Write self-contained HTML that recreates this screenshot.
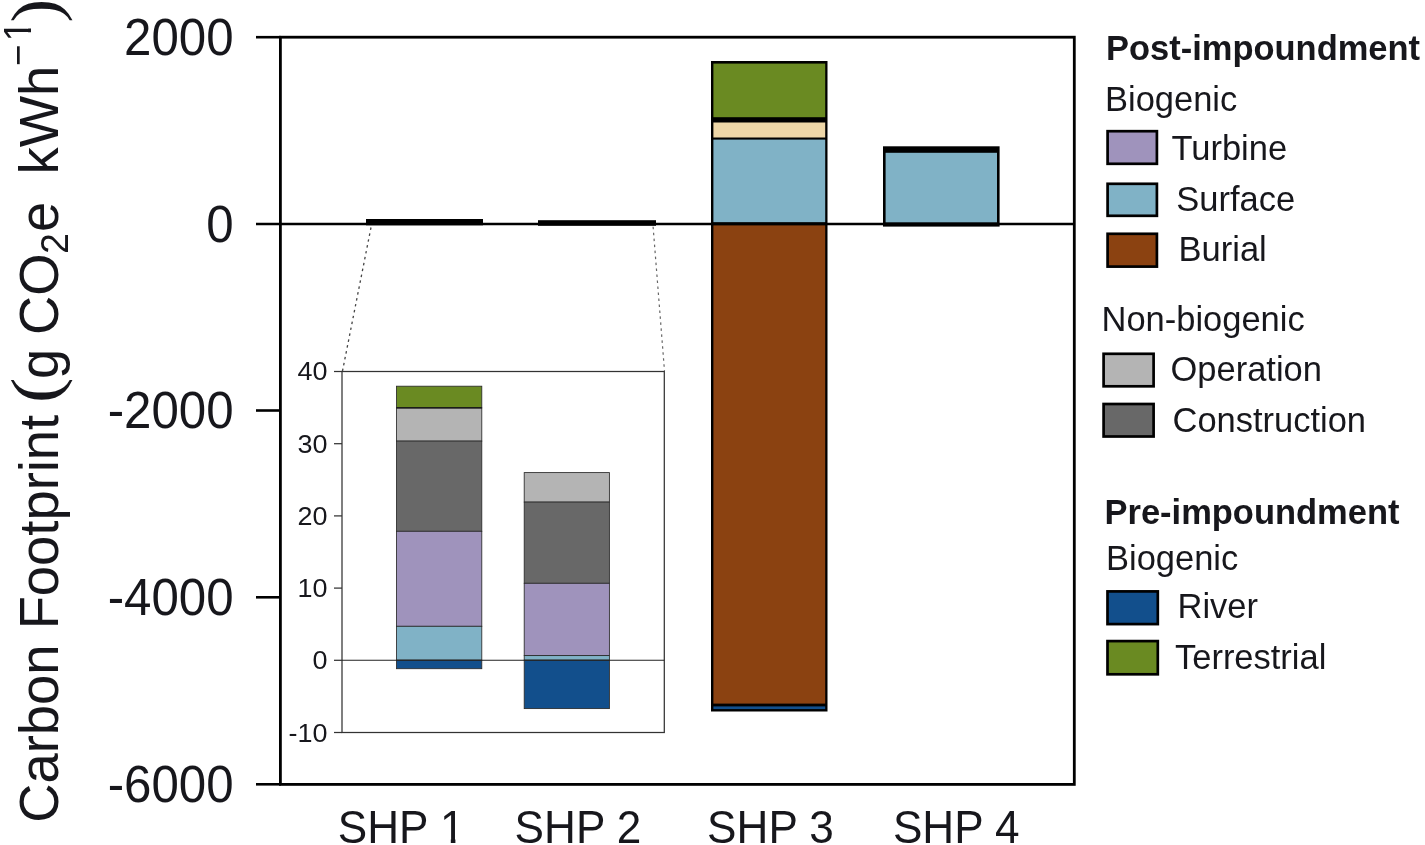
<!DOCTYPE html>
<html>
<head>
<meta charset="utf-8">
<style>
html,body{margin:0;padding:0;background:#fff;}
svg{display:block;}
text{font-family:"Liberation Sans",Arial,sans-serif;fill:#17171c;}
</style>
</head>
<body>
<svg width="1425" height="845" viewBox="0 0 1425 845">
<defs>
<clipPath id="c1"><rect x="300" y="790" width="200" height="48.8"/><rect x="300" y="790" width="142.6" height="60"/><rect x="450.8" y="790" width="4.6" height="60"/></clipPath>
<clipPath id="c2"><rect x="0" y="0" width="27.6" height="60"/><rect x="0" y="28.6" width="40" height="3.6"/><rect x="0" y="0" width="40" height="21.5"/><rect x="0" y="41" width="40" height="30"/></clipPath>
</defs>
<rect x="0" y="0" width="1425" height="845" fill="#fff"/>

<!-- ===== main bars ===== -->
<!-- SHP1 / SHP2 tiny bars -->
<rect x="366" y="219" width="117" height="6.3" fill="#000"/>
<rect x="538" y="220.2" width="118" height="5.6" fill="#000"/>

<!-- SHP3 -->
<rect x="711" y="61" width="116.5" height="650.5" fill="#000"/>
<rect x="713.4" y="63.6" width="111.8" height="53.6" fill="#6a8a22"/>
<rect x="713.4" y="122.5" width="111.8" height="15" fill="#eed7a8"/>
<rect x="713.4" y="139.6" width="111.8" height="82.6" fill="#80b2c6"/>
<rect x="713.4" y="225.2" width="111.8" height="478.4" fill="#8b4211"/>
<rect x="713.4" y="706.4" width="111.8" height="2.7" fill="#124f8c"/>

<!-- SHP4 -->
<rect x="883" y="146.3" width="116.6" height="80.3" fill="#000"/>
<rect x="885.6" y="152.8" width="111.4" height="69.6" fill="#80b2c6"/>

<!-- zero line -->
<line x1="256" y1="223.9" x2="1074" y2="223.9" stroke="#000" stroke-width="2.5"/>

<!-- ===== frame ===== -->
<rect x="280.4" y="37.2" width="793.9" height="747.2" fill="none" stroke="#000" stroke-width="2.8"/>
<g stroke="#000" stroke-width="2.6">
<line x1="256" y1="37.2" x2="281" y2="37.2"/>
<line x1="256" y1="410.5" x2="281" y2="410.5"/>
<line x1="256" y1="597.3" x2="281" y2="597.3"/>
<line x1="256" y1="784.3" x2="281" y2="784.3"/>
</g>

<!-- y tick labels -->
<g font-size="51" text-anchor="end">
<text transform="translate(233.6,54.5) scale(0.966,1)">2000</text>
<text transform="translate(233.6,241.8) scale(0.966,1)">0</text>
<text transform="translate(233.6,428) scale(0.966,1)">-2000</text>
<text transform="translate(233.6,615) scale(0.966,1)">-4000</text>
<text transform="translate(233.6,802) scale(0.966,1)">-6000</text>
</g>

<!-- x labels -->
<g font-size="46.9">
<g clip-path="url(#c1)"><text transform="translate(337.8,842.6) scale(0.941,1)">SHP 1</text></g>
<text transform="translate(514.6,842.6) scale(0.941,1)">SHP 2</text>
<text transform="translate(707.1,842.6) scale(0.941,1)">SHP 3</text>
<text transform="translate(892.9,842.6) scale(0.941,1)">SHP 4</text>
</g>

<!-- y axis title -->
<g font-size="56">
<text transform="translate(58,822.8) rotate(-90) scale(0.971,1)">Carbon Footprint</text>
<text transform="translate(58,403) rotate(-90) scale(1.12,1)" font-size="68" style="font-family:'Liberation Serif',serif">(</text>
<text transform="translate(58,379) rotate(-90) scale(0.971,1)">g</text>
<text transform="translate(58,335) rotate(-90) scale(0.971,1)">CO</text>
<text transform="translate(68,254) rotate(-90) scale(0.95,1)" font-size="39.5">2</text>
<text transform="translate(58,232) rotate(-90) scale(0.971,1)">e</text>
<text transform="translate(58,174.5) rotate(-90) scale(0.971,1)">kWh</text>
<text transform="translate(31,66) rotate(-90) scale(0.971,1)" font-size="38">−</text>
<g clip-path="url(#c2)"><text transform="translate(31,41.2) rotate(-90) scale(0.971,1)" font-size="38">1</text></g>
<text transform="translate(58,22.6) rotate(-90) scale(1.04,1)" font-size="68" style="font-family:'Liberation Serif',serif">)</text>
</g>

<!-- ===== inset ===== -->
<g>
<!-- dashed connectors -->
<line x1="371" y1="227.5" x2="342.5" y2="371" stroke="#444" stroke-width="1.3" stroke-dasharray="2.5,3.5"/>
<line x1="653.1" y1="226.7" x2="664.5" y2="371" stroke="#666" stroke-width="1.2" stroke-dasharray="2.5,3.5"/>
<rect x="342" y="371.5" width="322.3" height="361" fill="#fff" stroke="#333" stroke-width="1.25"/>
<g stroke="#333" stroke-width="1.25">
<line x1="334" y1="371.5" x2="342" y2="371.5"/>
<line x1="334" y1="443.7" x2="342" y2="443.7"/>
<line x1="334" y1="515.9" x2="342" y2="515.9"/>
<line x1="334" y1="588.1" x2="342" y2="588.1"/>
<line x1="334" y1="660.3" x2="342" y2="660.3"/>
<line x1="334" y1="732.5" x2="342" y2="732.5"/>
</g>
<!-- inset bar 1 -->
<g stroke="#2a2a2a" stroke-width="0.85">
<rect x="396.5" y="386.2" width="85.3" height="21.7" fill="#6a8a22"/>
<rect x="396.5" y="407.9" width="85.3" height="33.2" fill="#b4b4b4"/>
<rect x="396.5" y="441.1" width="85.3" height="90.2" fill="#686868"/>
<rect x="396.5" y="531.3" width="85.3" height="95" fill="#9f93bc"/>
<rect x="396.5" y="626.3" width="85.3" height="33.9" fill="#80b2c6"/>
<rect x="396.5" y="660.2" width="85.3" height="8.5" fill="#124f8c"/>
</g>
<line x1="396.5" y1="407.9" x2="481.8" y2="407.9" stroke="#111" stroke-width="1.4"/>
<!-- inset bar 2 -->
<g stroke="#2a2a2a" stroke-width="0.85">
<rect x="524.2" y="472.6" width="85.2" height="29.5" fill="#b4b4b4"/>
<rect x="524.2" y="502.1" width="85.2" height="81.2" fill="#686868"/>
<rect x="524.2" y="583.3" width="85.2" height="72.3" fill="#9f93bc"/>
<rect x="524.2" y="655.6" width="85.2" height="4.6" fill="#80b2c6"/>
<rect x="524.2" y="660.2" width="85.2" height="48.4" fill="#124f8c"/>
</g>
<line x1="342" y1="660.3" x2="664.3" y2="660.3" stroke="#222" stroke-width="1.1"/>
<g font-size="25.2" text-anchor="end">
<text transform="translate(327.4,380.4) scale(1.07,1)">40</text>
<text transform="translate(327.4,452.6) scale(1.07,1)">30</text>
<text transform="translate(327.4,524.8) scale(1.07,1)">20</text>
<text transform="translate(327.4,597) scale(1.07,1)">10</text>
<text transform="translate(327.4,669.4) scale(1.07,1)">0</text>
<text transform="translate(327.4,741.6) scale(1.07,1)">-10</text>
</g>
</g>

<!-- ===== legend ===== -->
<g font-size="35.2">
<text transform="translate(1106,59.8) scale(0.98,1)" font-weight="bold">Post-impoundment</text>
<text transform="translate(1105,110.9) scale(0.98,1)">Biogenic</text>
<text transform="translate(1171.5,159.6) scale(0.98,1)">Turbine</text>
<text transform="translate(1176.3,210.5) scale(0.98,1)">Surface</text>
<text transform="translate(1178.6,260.9) scale(0.98,1)">Burial</text>
<text transform="translate(1101.5,330.7) scale(0.98,1)">Non-biogenic</text>
<text transform="translate(1170.5,380.6) scale(0.98,1)">Operation</text>
<text transform="translate(1172.5,432.1) scale(0.98,1)">Construction</text>
<text transform="translate(1104.5,523.7) scale(0.98,1)" font-weight="bold">Pre-impoundment</text>
<text transform="translate(1106,570.3) scale(0.98,1)">Biogenic</text>
<text transform="translate(1177.5,617.9) scale(0.98,1)">River</text>
<text transform="translate(1175,669.4) scale(0.98,1)">Terrestrial</text>
</g>
<g stroke="#000" stroke-width="2.7">
<rect x="1107.6" y="131.2" width="49.3" height="32.6" fill="#9f93bc"/>
<rect x="1107.6" y="183.8" width="49.3" height="32" fill="#80b2c6"/>
<rect x="1107.6" y="233.8" width="49.3" height="32.8" fill="#8b4211"/>
<rect x="1103.6" y="353.8" width="50" height="32.5" fill="#b4b4b4"/>
<rect x="1103.6" y="404" width="50" height="32.5" fill="#686868"/>
<rect x="1107.5" y="591.4" width="50.3" height="32.7" fill="#124f8c"/>
<rect x="1107.5" y="641.1" width="50.3" height="33.2" fill="#6a8a22"/>
</g>
</svg>
</body>
</html>
